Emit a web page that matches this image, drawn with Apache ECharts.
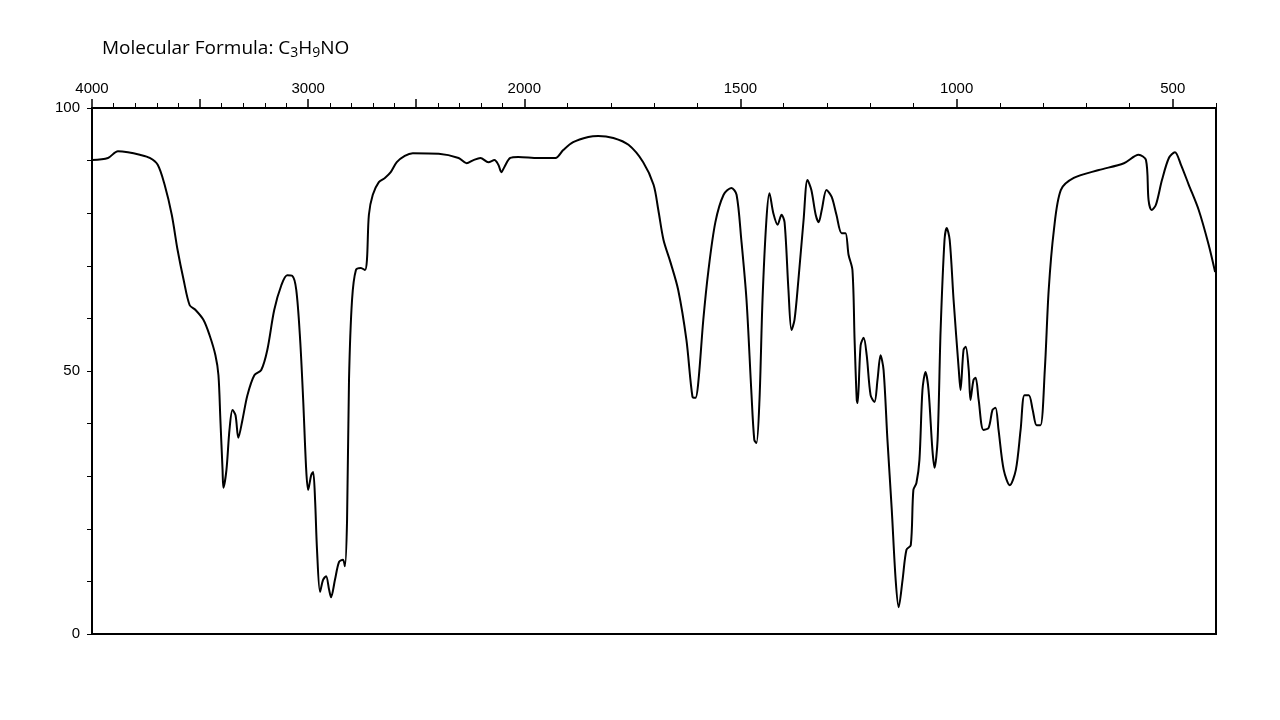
<!DOCTYPE html>
<html lang="en">
<head>
    <meta charset="UTF-8">
    <title>IR spectrum</title>
    <style>
        * { margin: 0; padding: 0; }
        body { background: #fff; }
        #main { width: 1280px; height: 720px; }
    </style>
</head>
<script src="https://cdn.jsdelivr.net/npm/echarts@6/dist/echarts.min.js"></script>
<body>
    <div id="main"></div>
    <script>
        // wavenumber (cm-1) and transmittance (%)
        var wavenumbers = [4000, 3926, 3880, 3834, 3779, 3733, 3696, 3664, 3631, 3604, 3576, 3548, 3521, 3484, 3456, 3429, 3415, 3406, 3396, 3392,
            3378, 3364, 3350, 3336, 3323, 3304, 3281, 3249, 3217, 3189, 3157, 3124, 3097, 3074, 3055, 3037, 3023, 3009, 3000, 2986,
            2977, 2968, 2959, 2945, 2931, 2917, 2903, 2894, 2876, 2857, 2839, 2830, 2820, 2811, 2797, 2779, 2756, 2737, 2728, 2719,
            2701, 2673, 2645, 2618, 2590, 2553, 2516, 2396, 2304, 2267, 2235, 2203, 2166, 2138, 2120, 2106, 2092, 2065, 2028,
            1968, 1928, 1910, 1887, 1852, 1829, 1794, 1759, 1725, 1701, 1690, 1678, 1662, 1644, 1625, 1611, 1604, 1597, 1586, 1574,
            1558, 1539, 1521, 1509, 1498, 1486, 1475, 1468, 1463, 1456, 1449, 1440, 1433, 1424, 1414, 1405, 1398, 1389, 1382, 1375,
            1366, 1354, 1345, 1336, 1326, 1319, 1312, 1301, 1289, 1278, 1266, 1257, 1250, 1241, 1236, 1231, 1229, 1222, 1215, 1208,
            1199, 1190, 1183, 1176, 1169, 1160, 1150, 1141, 1134, 1125, 1116, 1106, 1100, 1093, 1086, 1079, 1072, 1065, 1056, 1051,
            1044, 1037, 1028, 1023, 1016, 1007, 995, 991, 984, 979, 972, 968, 961, 956, 949, 938, 926, 917, 910, 903,
            891, 877, 863, 852, 843, 833, 824, 815, 806, 796, 787, 775, 759, 729, 671, 613, 579, 562, 556, 549,
            539, 525, 509, 495, 481, 463, 440, 417, 402];
        var transmittance = [90.1, 90.5, 91.8, 91.6, 91.1, 90.5, 89.2, 85.4, 79.7, 73.0, 67.3, 62.5, 61.6, 59.7, 56.8, 53.0, 49.2, 40.7, 31.2, 27.8,
            31.2, 38.8, 42.6, 41.6, 37.3, 40.7, 45.4, 49.2, 50.2, 54.0, 61.6, 66.3, 68.2, 68.1, 65.4, 55.9, 44.5, 31.2, 27.4, 30.2,
            30.8, 25.5, 16.0, 8.0, 10.3, 11.0, 8.4, 7.0, 10.3, 13.7, 14.1, 12.9, 21.7, 48.3, 63.5, 69.2, 69.6, 69.2, 71.1, 79.7,
            83.5, 85.9, 86.7, 87.8, 89.7, 90.9, 91.4, 91.3, 90.5, 89.5, 90.1, 90.5, 89.7, 90.1, 89.2, 87.8, 88.8, 90.5, 90.7,
            90.5, 90.5, 92.0, 93.5, 94.5, 94.7, 94.3, 93.0, 89.7, 85.4, 80.6, 74.9, 70.7, 65.4, 55.9, 45.1, 44.9, 48.3, 59.7, 69.2,
            78.3, 83.5, 84.8, 83.5, 74.9, 63.5, 46.4, 36.9, 36.3, 44.5, 63.5, 78.7, 83.8, 80.0, 77.8, 79.7, 78.3, 65.4, 57.8, 59.7,
            67.3, 78.7, 86.3, 84.4, 79.7, 78.3, 80.6, 84.4, 83.1, 79.7, 76.2, 76.2, 72.1, 69.2, 55.9, 44.5, 43.9, 54.9, 56.3, 53.0,
            45.4, 44.1, 48.3, 53.0, 50.2, 36.9, 23.6, 10.3, 5.1, 10.3, 16.0, 16.9, 27.4, 28.7, 33.1, 46.4, 49.8, 46.4, 35.0, 31.6,
            36.9, 57.8, 74.9, 77.2, 74.9, 63.5, 50.2, 46.4, 54.0, 54.6, 50.2, 44.5, 48.3, 48.7, 44.5, 38.8, 39.2, 42.6, 43.0, 38.8,
            31.2, 28.3, 31.2, 38.8, 45.4, 45.4, 42.6, 39.7, 39.7, 50.2, 65.4, 76.8, 84.4, 86.7, 88.2, 89.5, 91.1, 90.1, 82.5, 80.6,
            81.6, 86.3, 90.5, 91.6, 89.2, 85.4, 80.6, 74.0, 68.8];
        var labelWavenumbers = [4000, 3000, 2000, 1500, 1000, 500];
        var yLabels = [0, 50, 100];

        // split scale: 1000 cm-1 per unit above 2000, 500 cm-1 per unit below
        function pos(w) {
            return w >= 2000 ? (4000 - w) / 1000 : 2 + (2000 - w) / 500;
        }
        function wn(p) {
            return p <= 2 ? Math.round(4000 - p * 1000) : Math.round(2000 - (p - 2) * 500);
        }

        var data = wavenumbers.map(function (w, i) { return [pos(w), transmittance[i]]; });
        var bigTicks = [];
        var smallTicks = [];
        for (var w = 4000; w >= 400; w -= 100) {
            if (w % 500 === 0) bigTicks.push(pos(w)); else smallTicks.push(pos(w));
        }

        var axisBase = {
            type: 'value', position: 'top', offset: 0, min: 0, max: pos(400),
            axisLine: { show: true, onZero: false, lineStyle: { color: '#000', width: 2 } },
            splitLine: { show: false }
        };

        var myChart = echarts.init(document.getElementById('main'));
        var option = {
            backgroundColor: '#fff',
            animation: false,
            title: {
                left: 97, top: 32,
                text: '{a|Molecular Formula: C}{s|3}{a|H}{s|9}{a|NO}',
                textStyle: {
                    rich: {
                        a: { fontFamily: 'Open Sans', fontWeight: 'normal', fontSize: 19, color: '#000' },
                        s: { fontFamily: 'Open Sans', fontWeight: 'normal', fontSize: 14, color: '#000', verticalAlign: 'bottom', padding: [9, 0, 0, 0] }
                    }
                }
            },
            grid: { left: 92, right: 64, top: 108, bottom: 86, show: true, borderColor: '#000', borderWidth: 2 },
            xAxis: [
                Object.assign({}, axisBase, {
                    axisTick: { show: true, length: 5, lineStyle: { color: '#000', width: 1 }, customValues: smallTicks },
                    axisLabel: { show: true, customValues: labelWavenumbers.map(pos), margin: 12, color: '#000', fontFamily: 'Arial', fontSize: 15,
                        formatter: function (v) { return wn(v); } }
                }),
                Object.assign({}, axisBase, {
                    axisTick: { show: true, length: 9, lineStyle: { color: '#000', width: 1.5 }, customValues: bigTicks },
                    axisLabel: { show: false }
                })
            ],
            yAxis: {
                type: 'value', min: 0, max: 100, interval: 10,
                axisLine: { show: true, lineStyle: { color: '#000', width: 2 } },
                axisTick: { show: true, length: 5, lineStyle: { color: '#000' } },
                splitLine: { show: false },
                axisLabel: {
                    color: '#000', fontFamily: 'Arial', fontSize: 15, margin: 12,
                    formatter: function (v) { return yLabels.indexOf(v) >= 0 ? v : ''; }
                }
            },
            series: [{
                type: 'line', xAxisIndex: 0, data: data, smooth: 0.3, showSymbol: false,
                lineStyle: { color: '#000', width: 2 }
            }]
        };
        myChart.setOption(option);
    </script>
</body>
</html>
